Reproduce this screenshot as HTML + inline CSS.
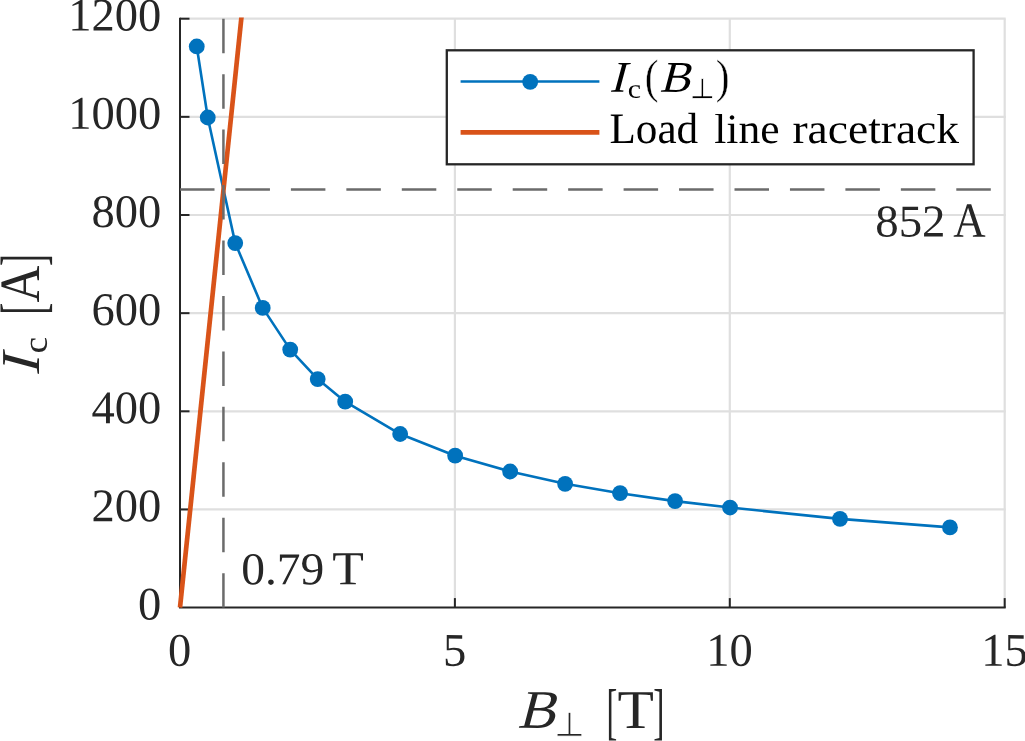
<!DOCTYPE html>
<html lang="en"><head><meta charset="utf-8"><title>Ic vs B</title>
<style>html,body{margin:0;padding:0;background:#fff;overflow:hidden}svg{display:block}text{font-family:"Liberation Serif", "DejaVu Serif", serif;fill:#262626}</style></head><body>
<svg width="1025" height="741" viewBox="0 0 1025 741">
<rect width="1025" height="741" fill="#fff"/>
<g stroke="#dfdfdf" stroke-width="2.2" fill="none">
<line x1="454.90" y1="18.70" x2="454.90" y2="607.60"/>
<line x1="729.80" y1="18.70" x2="729.80" y2="607.60"/>
<line x1="1004.70" y1="18.70" x2="1004.70" y2="607.60"/>
<line x1="180.00" y1="509.45" x2="1005.70" y2="509.45"/>
<line x1="180.00" y1="411.30" x2="1005.70" y2="411.30"/>
<line x1="180.00" y1="313.15" x2="1005.70" y2="313.15"/>
<line x1="180.00" y1="215.00" x2="1005.70" y2="215.00"/>
<line x1="180.00" y1="116.85" x2="1005.70" y2="116.85"/>
<line x1="180.00" y1="18.70" x2="1005.70" y2="18.70"/>
</g>
<g stroke="#262626" stroke-width="2" fill="none">
<path d="M180.00 17.70V608.60M179.00 607.60H1005.70"/>
<line x1="454.90" y1="607.60" x2="454.90" y2="598.10"/>
<line x1="729.80" y1="607.60" x2="729.80" y2="598.10"/>
<line x1="1004.70" y1="607.60" x2="1004.70" y2="598.10"/>
<line x1="180.00" y1="509.45" x2="189.50" y2="509.45"/>
<line x1="180.00" y1="411.30" x2="189.50" y2="411.30"/>
<line x1="180.00" y1="313.15" x2="189.50" y2="313.15"/>
<line x1="180.00" y1="215.00" x2="189.50" y2="215.00"/>
<line x1="180.00" y1="116.85" x2="189.50" y2="116.85"/>
<line x1="180.00" y1="18.70" x2="189.50" y2="18.70"/>
</g>
<polyline points="196.74,46.47 207.74,117.48 235.23,243.11 262.72,307.89 290.21,349.61 317.70,379.05 345.19,401.63 400.17,434.02 455.15,455.71 510.13,471.51 565.11,483.83 620.09,493.20 675.07,501.10 730.05,507.53 840.01,518.91 949.97,527.40" fill="none" stroke="#0072bd" stroke-width="2.6" stroke-linejoin="round"/>
<g fill="#0072bd">
<circle cx="196.74" cy="46.47" r="7.9"/>
<circle cx="207.74" cy="117.48" r="7.9"/>
<circle cx="235.23" cy="243.11" r="7.9"/>
<circle cx="262.72" cy="307.89" r="7.9"/>
<circle cx="290.21" cy="349.61" r="7.9"/>
<circle cx="317.70" cy="379.05" r="7.9"/>
<circle cx="345.19" cy="401.63" r="7.9"/>
<circle cx="400.17" cy="434.02" r="7.9"/>
<circle cx="455.15" cy="455.71" r="7.9"/>
<circle cx="510.13" cy="471.51" r="7.9"/>
<circle cx="565.11" cy="483.83" r="7.9"/>
<circle cx="620.09" cy="493.20" r="7.9"/>
<circle cx="675.07" cy="501.10" r="7.9"/>
<circle cx="730.05" cy="507.53" r="7.9"/>
<circle cx="840.01" cy="518.91" r="7.9"/>
<circle cx="949.97" cy="527.40" r="7.9"/>
</g>
<clipPath id="c"><rect x="176.0" y="17.50" width="832.7" height="590.80"/></clipPath>
<g clip-path="url(#c)"><line x1="180.00" y1="607.60" x2="243.38" y2="-1.30" stroke="#d95319" stroke-width="4.7"/></g>
<g stroke="#6b6b6b" stroke-width="2.5" stroke-dasharray="34.5 20.95" fill="none">
<line x1="223.43" y1="18.70" x2="223.43" y2="607.60"/>
<line x1="180.00" y1="189.48" x2="1004.70" y2="189.48"/>
</g>
<rect x="446.8" y="50.3" width="526.8" height="114" fill="#fff" stroke="#262626" stroke-width="2.3"/>
<line x1="460.6" y1="81.5" x2="599.4" y2="81.5" stroke="#0072bd" stroke-width="2.6"/>
<circle cx="530.2" cy="81.9" r="7.9" fill="#0072bd"/>
<line x1="460.6" y1="132.45" x2="599.4" y2="132.45" stroke="#d95319" stroke-width="4.7"/>
<text transform="translate(517.35 727.83) scale(1.1352 1.0880) skewX(-14) rotate(0.04)" font-size="50" style="fill:#262626">B</text>
<text transform="translate(553.40 736.30) scale(0.6798 0.6943) rotate(0.04)" font-size="50" font-family="'DejaVu Sans', 'DejaVu Serif', sans-serif" stroke="#fff" stroke-width="1.164" style="fill:#262626">&#8869;</text>
<text transform="translate(606.50 732.16) scale(0.6467 1.2471) rotate(0.04)" font-size="50" style="fill:#262626">[</text>
<text transform="translate(617.42 728.00) scale(1.1906 1.0931) rotate(0.04)" font-size="50" style="fill:#262626">T</text>
<text transform="translate(653.28 732.16) scale(0.6737 1.2471) rotate(0.04)" font-size="50" style="fill:#262626">]</text>
<text transform="translate(609.29 91.85) scale(0.9379 0.8809) skewX(-14) rotate(0.04)" font-size="50" style="fill:#000">I</text>
<text transform="translate(627.76 97.83) scale(0.5973 0.5361) rotate(0.04)" font-size="50" style="fill:#000">c</text>
<text transform="translate(644.79 92.48) scale(0.8254 0.9520) rotate(0.04)" font-size="50" stroke="#fff" stroke-width="0.450" style="fill:#000">(</text>
<text transform="translate(659.47 91.71) scale(0.9172 0.8767) skewX(-14) rotate(0.04)" font-size="50" style="fill:#000">B</text>
<text transform="translate(689.18 98.35) scale(0.5541 0.5714) rotate(0.04)" font-size="50" font-family="'DejaVu Sans', 'DejaVu Serif', sans-serif" stroke="#fff" stroke-width="1.244" style="fill:#000">&#8869;</text>
<text transform="translate(715.77 92.50) scale(0.8255 0.9524) rotate(0.04)" font-size="50" stroke="#fff" stroke-width="0.450" style="fill:#000">)</text>
<text transform="translate(609.46 142.90) scale(0.8631 0.8700) rotate(0.04)" font-size="50" style="fill:#000">Load</text>
<text transform="translate(714.23 142.90) scale(0.8707 0.8400) rotate(0.04)" font-size="50" style="fill:#000">line</text>
<text transform="translate(792.39 142.90) scale(0.9102 0.8400) rotate(0.04)" font-size="50" style="fill:#000">racetrack</text>
<text transform="translate(875.21 236.44) scale(0.9369 0.9126) rotate(0.04)" font-size="50" style="fill:#262626">852</text>
<text transform="translate(953.26 236.80) scale(0.8963 0.9848) rotate(0.04)" font-size="50" style="fill:#262626">A</text>
<text transform="translate(241.19 584.15) scale(0.9504 0.9128) rotate(0.04)" font-size="50" style="fill:#262626">0.79</text>
<text transform="translate(332.27 584.20) scale(1.0344 0.9496) rotate(0.04)" font-size="50" style="fill:#262626">T</text>
<g transform="rotate(-90)">
<text transform="translate(-376.03 39.00) scale(1.1688 1.0962) skewX(-14) rotate(0.04)" font-size="50" style="fill:#262626">I</text>
<text transform="translate(-353.53 46.76) scale(0.7520 0.6816) rotate(0.04)" font-size="50" style="fill:#262626">c</text>
<text transform="translate(-314.50 43.66) scale(0.7006 1.2471) rotate(0.04)" font-size="50" style="fill:#262626">[</text>
<text transform="translate(-302.50 39.00) scale(1.0183 1.1394) rotate(0.04)" font-size="50" style="fill:#262626">A</text>
<text transform="translate(-265.98 43.66) scale(0.7096 1.2471) rotate(0.04)" font-size="50" style="fill:#262626">]</text>
</g>
<text transform="translate(138.01 619.48) scale(0.9306 0.9363) rotate(0.04)" font-size="50">0</text>
<text transform="translate(91.48 521.33) scale(0.9306 0.9363) rotate(0.04)" font-size="50">200</text>
<text transform="translate(91.48 423.18) scale(0.9306 0.9363) rotate(0.04)" font-size="50">400</text>
<text transform="translate(91.48 325.03) scale(0.9306 0.9363) rotate(0.04)" font-size="50">600</text>
<text transform="translate(91.48 226.88) scale(0.9306 0.9363) rotate(0.04)" font-size="50">800</text>
<text transform="translate(68.21 128.73) scale(0.9306 0.9363) rotate(0.04)" font-size="50">1000</text>
<text transform="translate(68.21 30.58) scale(0.9306 0.9363) rotate(0.04)" font-size="50">1200</text>
<text transform="translate(168.07 665.73) scale(0.9306 0.9363) rotate(0.04)" font-size="50">0</text>
<text transform="translate(442.97 665.73) scale(0.9306 0.9363) rotate(0.04)" font-size="50">5</text>
<text transform="translate(706.23 665.73) scale(0.9306 0.9363) rotate(0.04)" font-size="50">10</text>
<text transform="translate(981.13 665.73) scale(0.9306 0.9363) rotate(0.04)" font-size="50">15</text>
</svg></body></html>
